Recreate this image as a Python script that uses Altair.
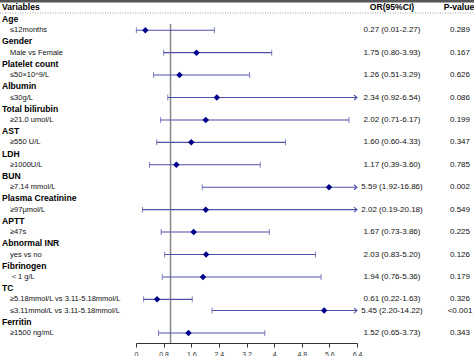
import altair as alt
import pandas as pd

labels = ["Age", "≤12months", "Gender", "Male vs Female", "Platelet count", "≤50×10^9/L",
          "Albumin", "≤30g/L", "Total bilirubin", "≥21.0 umol/L", "AST", "≥550 U/L",
          "LDH", "≥1000U/L", "BUN", "≥7.14 mmol/L", "Plasma Creatinine", "≥97μmol/L",
          "APTT", "≥47s", "Abnormal INR", "yes vs no", "Fibrinogen", "＜1 g/L", "TC",
          "≥5.18mmol/L vs 3.11-5.18mmol/L", "≤3.11mmol/L vs 3.11-5.18mmol/L",
          "Ferritin", "≥1500 ng/mL"]
is_group = [1, 0, 1, 0, 1, 0, 1, 0, 1, 0, 1, 0, 1, 0, 1, 0, 1, 0, 1, 0, 1, 0, 1, 0, 1, 0, 0, 1, 0]
or_vals = [None, 0.27, None, 1.75, None, 1.26, None, 2.34, None, 2.02, None, 1.60, None, 1.17,
           None, 5.59, None, 2.02, None, 1.67, None, 2.03, None, 1.94, None, 0.61, 5.45, None, 1.52]
ci_lo = [None, 0.01, None, 0.80, None, 0.51, None, 0.92, None, 0.71, None, 0.60, None, 0.39,
         None, 1.92, None, 0.19, None, 0.73, None, 0.83, None, 0.76, None, 0.22, 2.20, None, 0.65]
ci_hi = [None, 2.27, None, 3.93, None, 3.29, None, 6.54, None, 6.17, None, 4.33, None, 3.60,
         None, 16.86, None, 20.18, None, 3.86, None, 5.20, None, 5.36, None, 1.63, 14.22, None, 3.73]
or_text = ["", "0.27 (0.01-2.27)", "", "1.75 (0.80-3.93)", "", "1.26 (0.51-3.29)", "",
           "2.34 (0.92-6.54)", "", "2.02 (0.71-6.17)", "", "1.60 (0.60-4.33)", "",
           "1.17 (0.39-3.60)", "", "5.59 (1.92-16.86)", "", "2.02 (0.19-20.18)", "",
           "1.67 (0.73-3.86)", "", "2.03 (0.83-5.20)", "", "1.94 (0.76-5.36)", "",
           "0.61 (0.22-1.63)", "5.45 (2.20-14.22)", "", "1.52 (0.65-3.73)"]
p_text = ["", "0.289", "", "0.167", "", "0.626", "", "0.086", "", "0.199", "", "0.347", "",
          "0.785", "", "0.002", "", "0.549", "", "0.225", "", "0.126", "", "0.179", "",
          "0.326", "<0.001", "", "0.343"]
x_ticks = [0, 0.8, 1.6, 2.4, 3.2, 4, 4.8, 5.6, 6.4]
x_max = 6.4

df = pd.DataFrame({
    "row": list(range(len(labels))),
    "label": labels,
    "group": is_group,
    "or": or_vals,
    "lo": ci_lo,
    "hi": ci_hi,
    "ortext": or_text,
    "ptext": p_text,
})

FONT = "Liberation Sans"
xs = alt.Scale(domain=[0, x_max], range=[136, 357], nice=False, zero=False)
ys = alt.Scale(domain=[0, 28], range=[19, 333], nice=False, zero=False)
X = lambda f: alt.X(f, type="quantitative", scale=xs,
                    axis=alt.Axis(values=x_ticks, format=".1~f", title=None, grid=False,
                                  labelFont=FONT, labelFontSize=7, labelColor="#333",
                                  domainColor="#333", tickColor="#333", tickSize=4,
                                  labelPadding=3, labelFlush=False))
Y = alt.Y("row:Q", scale=ys, axis=None)

base = alt.Chart(df)
est = base.transform_filter("isValid(datum.or)").transform_calculate(
    hic=f"min(datum.hi, {x_max})")

ci = est.mark_rule(color="#5050A8", strokeWidth=1.1).encode(x=X("lo"), x2="hic:Q", y=Y)
cap_lo = est.mark_tick(orient="vertical", color="#5050A8", size=6, thickness=1).encode(
    x=X("lo"), y=Y)
cap_hi = est.transform_filter(f"datum.hi <= {x_max}").mark_tick(
    orient="vertical", color="#5050A8", size=6, thickness=1).encode(x=X("hi"), y=Y)
arrow = est.transform_filter(f"datum.hi > {x_max}").mark_point(
    shape="M-3,-2.5L0,0L-3,2.5", size=4, filled=False, color="#5050A8",
    strokeWidth=1.1, opacity=1).encode(x=X("hic"), y=Y)
pts = est.mark_point(shape="diamond", filled=True, size=42, color="#00008B",
                     opacity=1).encode(x=X("or"), y=Y)

refline = alt.Chart(pd.DataFrame({"v": [1]})).mark_rule(color="#888", strokeWidth=1.5).encode(
    x=X("v"), y=alt.value(24), y2=alt.value(343))

grp = base.transform_filter("datum.group == 1").mark_text(
    align="left", baseline="middle", font=FONT, fontSize=8.6, fontWeight="bold",
    color="#000").encode(x=alt.value(2), y=Y, text="label:N")
sub = base.transform_filter("datum.group == 0").mark_text(
    align="left", baseline="middle", font=FONT, fontSize=7.5, color="#111").encode(
    x=alt.value(10), y=Y, text="label:N")
ortx = base.mark_text(align="center", baseline="middle", font=FONT, fontSize=8,
                      color="#111").encode(x=alt.value(392), y=Y, text="ortext:N")
ptx = base.mark_text(align="center", baseline="middle", font=FONT, fontSize=8,
                     color="#111").encode(x=alt.value(460), y=Y, text="ptext:N")

hdr_df = pd.DataFrame({"t": ["Variables"]})
topline = alt.Chart(hdr_df).mark_rule(color="#555", strokeWidth=3).encode(
    x=alt.value(0), x2=alt.value(474), y=alt.value(1))
dotted = alt.Chart(hdr_df).mark_rule(color="#888", strokeWidth=0.8, strokeDash=[1, 1.5]).encode(
    x=alt.value(0), x2=alt.value(474), y=alt.value(13))
h1 = alt.Chart(pd.DataFrame({"t": ["Variables"]})).mark_text(
    align="left", baseline="middle", font=FONT, fontSize=8.6, fontWeight="bold").encode(
    x=alt.value(2), y=alt.value(7), text="t:N")
h2 = alt.Chart(pd.DataFrame({"t": ["OR(95%CI)"]})).mark_text(
    align="center", baseline="middle", font=FONT, fontSize=8.6, fontWeight="bold").encode(
    x=alt.value(392), y=alt.value(7), text="t:N")
h3 = alt.Chart(pd.DataFrame({"t": ["P-value"]})).mark_text(
    align="center", baseline="middle", font=FONT, fontSize=8.6, fontWeight="bold").encode(
    x=alt.value(459), y=alt.value(7), text="t:N")

chart = alt.layer(topline, dotted, h1, h2, h3, refline, ci, cap_lo, cap_hi, arrow, pts,
                  grp, sub, ortx, ptx).properties(
    width=474, height=343,
    autosize=alt.AutoSizeParams(type="none"),
    padding={"left": 0, "top": 0, "right": 0, "bottom": 13},
    background="white",
).configure_view(stroke=None)

chart.save("out.html", embed_options={"renderer": "svg", "actions": False})
